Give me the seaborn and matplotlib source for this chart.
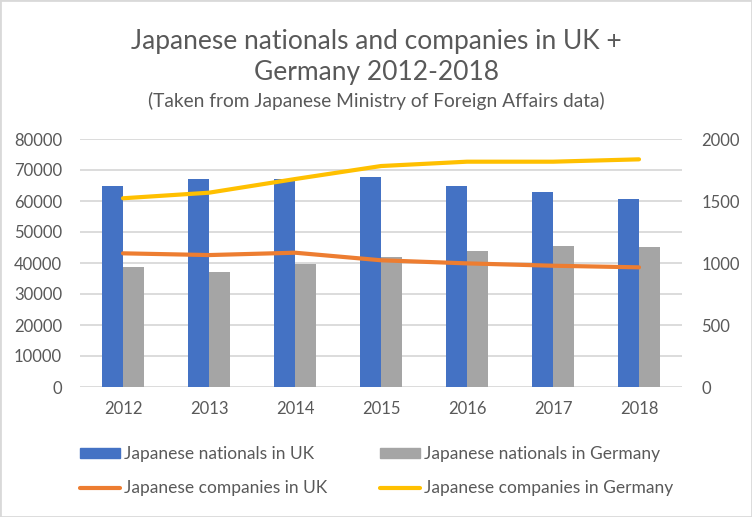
import numpy as np
import pandas as pd
import seaborn as sns
import matplotlib.pyplot as plt
from matplotlib.patches import Rectangle, Patch
from matplotlib.lines import Line2D

# datos
years = ["2012", "2013", "2014", "2015", "2016", "2017", "2018"]
nationals_uk = [64800, 67100, 67000, 67700, 64800, 62900, 60600]
nationals_de = [38700, 37100, 39700, 41900, 43900, 45500, 45200]
companies_uk = [1078, 1064, 1083, 1022, 997, 978, 965]
companies_de = [1522, 1567, 1677, 1782, 1817, 1817, 1836]

txt = "#595959"
grid = "#D9D9D9"
c_blue, c_gray, c_orange, c_yellow = "#4472C4", "#A5A5A5", "#ED7D31", "#FFC000"

sns.set_style("white")
plt.rcParams["font.family"] = ["Lato", "DejaVu Sans"]

bars = pd.DataFrame({
    "year": years * 2,
    "value": nationals_uk + nationals_de,
    "serie": ["Japanese nationals in UK"] * 7 + ["Japanese nationals in Germany"] * 7,
})
lines = pd.DataFrame({
    "pos": list(np.arange(len(years))) * 2,
    "value": companies_uk + companies_de,
    "serie": ["Japanese companies in UK"] * 7 + ["Japanese companies in Germany"] * 7,
})

fig = plt.figure(figsize=(7.52, 5.17), dpi=100)
ax = fig.add_axes([80 / 752, 1 - 387 / 517, 602 / 752, 248 / 517])

sns.barplot(data=bars, x="year", y="value", hue="serie", order=years,
            palette=[c_blue, c_gray], width=0.49, gap=0, saturation=1,
            edgecolor="none", ax=ax, legend=False)
ax.set_ylim(0, 80000)
ax.set_yticks(range(0, 80001, 10000))
ax.set_xlim(-0.5, 6.5)
ax.yaxis.grid(True, color=grid, linewidth=1.3)
ax.set_axisbelow(True)
ax.set_xlabel("")
ax.set_ylabel("")
for s in ax.spines.values():
    s.set_visible(False)
ax.tick_params(axis="both", length=0, labelsize=12, labelcolor=txt)
ax.tick_params(axis="y", pad=13)
ax.tick_params(axis="x", pad=10)

ax2 = ax.twinx()
sns.lineplot(data=lines, x="pos", y="value", hue="serie", sort=False,
             palette=[c_orange, c_yellow], linewidth=3, ax=ax2, legend=False)
ax2.set_ylim(0, 2000)
ax2.set_yticks(range(0, 2001, 500))
ax2.set_xlim(-0.5, 6.5)
ax2.set_ylabel("")
ax2.set_xlabel("")
for s in ax2.spines.values():
    s.set_visible(False)
ax2.tick_params(axis="y", length=0, labelsize=12, labelcolor=txt, pad=14)

# titulo
fig.text(0.5, 1 - 57 / 517, "Japanese nationals and companies in UK +\nGermany 2012-2018",
         ha="center", va="center", fontsize=19, color=txt, linespacing=1.32)
fig.text(0.5, 1 - 101 / 517, "(Taken from Japanese Ministry of Foreign Affairs data)",
         ha="center", va="center", fontsize=13.8, color=txt)

# leyenda
handles = [
    Patch(color=c_blue, label="Japanese nationals in UK"),
    Line2D([], [], color=c_orange, linewidth=3, solid_capstyle="round", label="Japanese companies in UK"),
    Patch(color=c_gray, label="Japanese nationals in Germany"),
    Line2D([], [], color=c_yellow, linewidth=3, solid_capstyle="round", label="Japanese companies in Germany"),
]
leg = fig.legend(handles=handles, ncol=2, loc="center left",
                 bbox_to_anchor=(64 / 752, 1 - 471 / 517), frameon=False,
                 fontsize=12.5, handlelength=2.3, handleheight=0.5, handletextpad=0.23,
                 columnspacing=3.05, labelspacing=1.05)
for t in leg.get_texts():
    t.set_color(txt)

# marco
fig.patches.append(Rectangle((0, 0), 1, 1, transform=fig.transFigure, fill=False,
                             edgecolor=grid, linewidth=2))

plt.savefig("out.png", dpi=100)
